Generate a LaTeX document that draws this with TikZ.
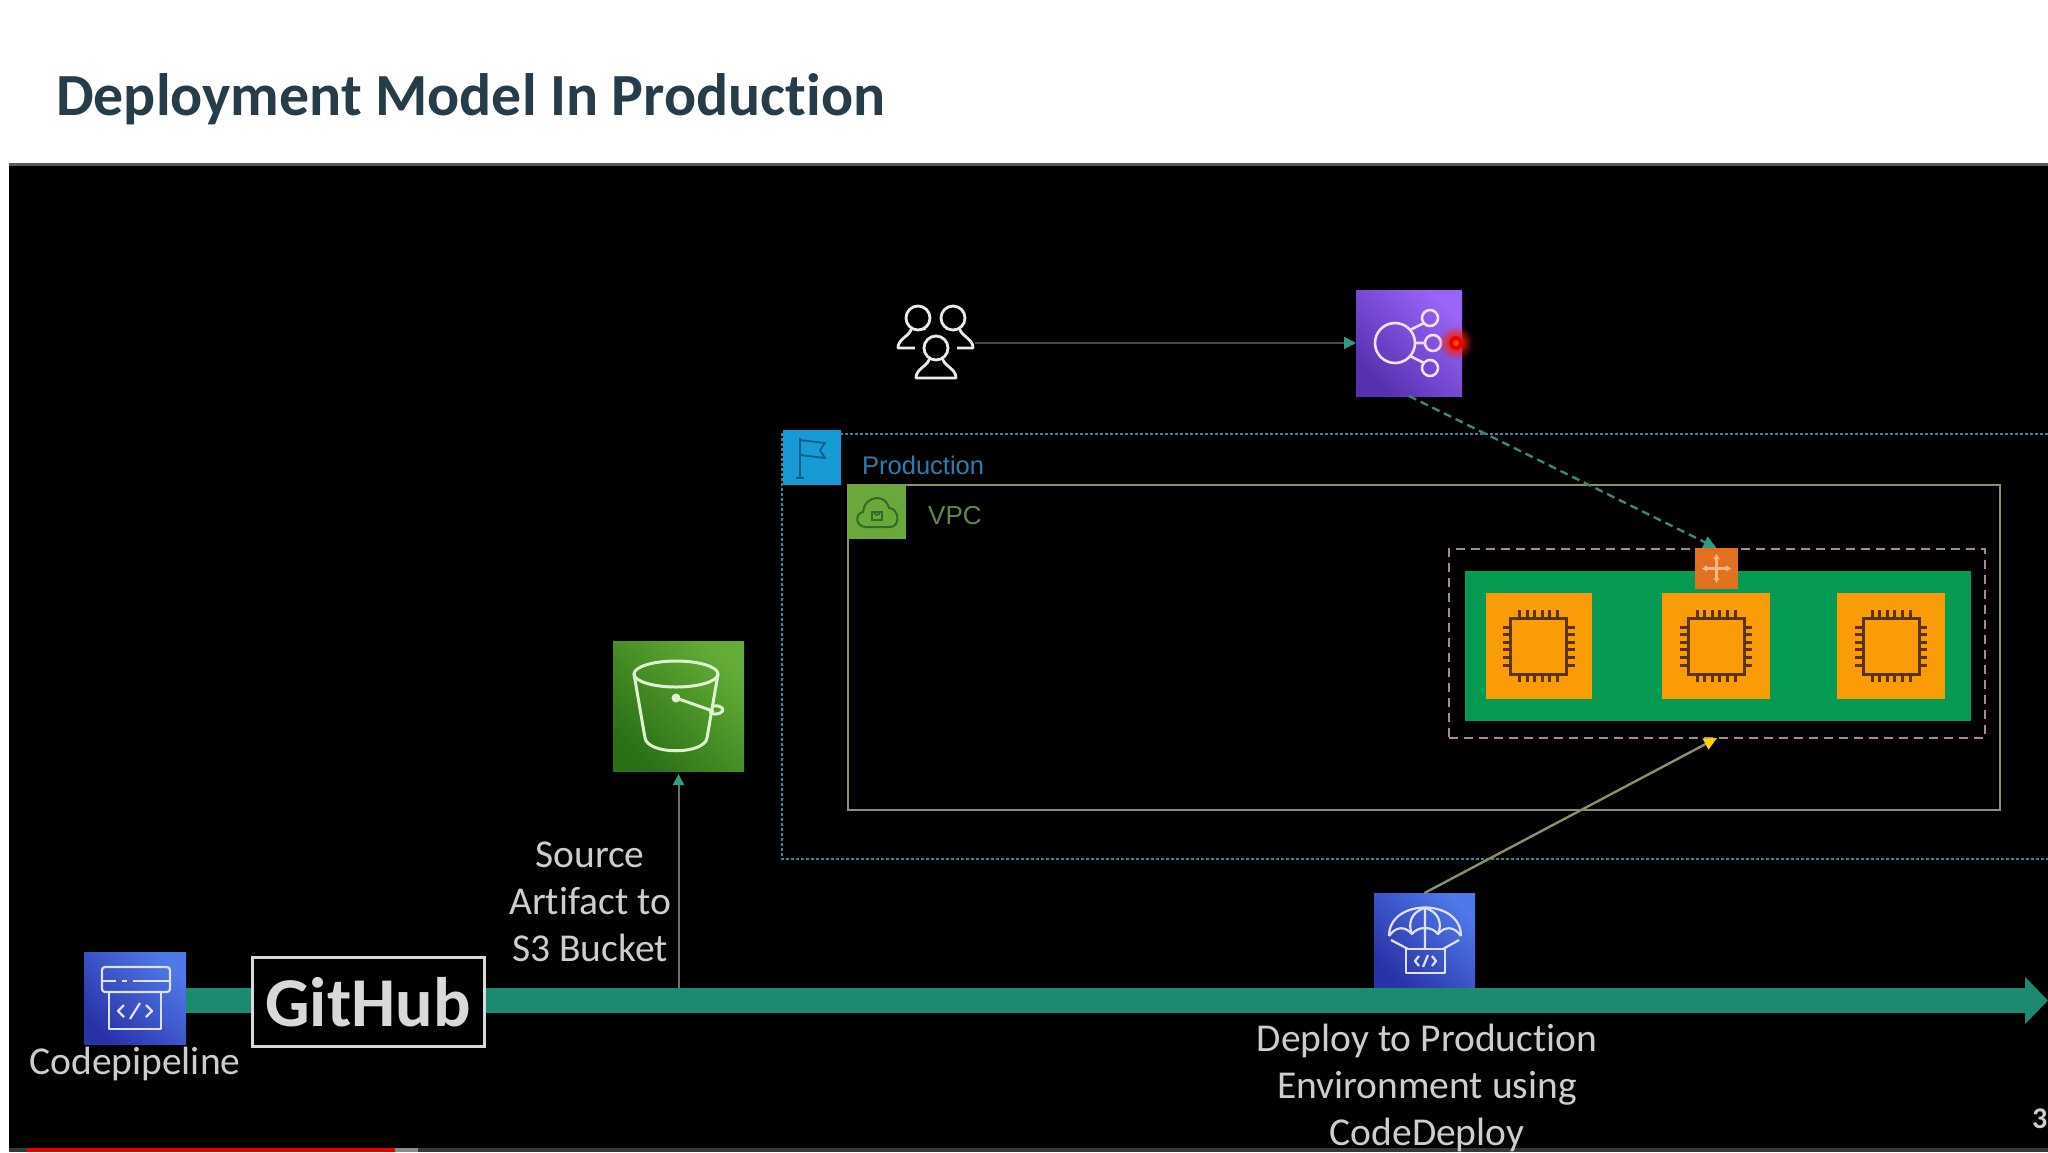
\documentclass[tikz,border=0pt]{standalone}
\usepackage{fontspec}
\setmainfont{Carlito}[Ligatures=NoCommon]
\newfontfamily\arialfont{Liberation Sans}
\usetikzlibrary{arrows.meta,positioning}
\definecolor{titleink}{HTML}{263C49}
\definecolor{labelink}{HTML}{CDCDCD}
\definecolor{barteal}{HTML}{1B8A70}
\definecolor{tealhead}{HTML}{2A9D83}
\definecolor{slate}{HTML}{3A4F4A}
\definecolor{dashteal}{HTML}{3F8572}
\definecolor{olive}{HTML}{8C8F6C}
\definecolor{prodline}{HTML}{41809A}
\definecolor{pinkdash}{HTML}{A88890}
\definecolor{asggreen}{HTML}{069B52}
\definecolor{ecorange}{HTML}{FA9C05}
\definecolor{chipbrown}{HTML}{5A3308}
\definecolor{lborange}{HTML}{E2701F}
\definecolor{lbcream}{HTML}{F6B884}
\definecolor{flagblue}{HTML}{169BD5}
\definecolor{flagink}{HTML}{0F5F8E}
\definecolor{vpcgreen}{HTML}{6BA83A}
\definecolor{vpcink}{HTML}{2F6B2A}
\definecolor{prodtext}{HTML}{2F7DAB}
\definecolor{vpctext}{HTML}{5E8A45}
\definecolor{purplelo}{HTML}{5530B0}
\definecolor{purplehi}{HTML}{9A64F8}
\definecolor{bluelo}{HTML}{2A32A8}
\definecolor{bluehi}{HTML}{4F78E8}
\definecolor{greenlo}{HTML}{2A7016}
\definecolor{greenhi}{HTML}{64AC36}
\definecolor{bucketink}{HTML}{DDF3D0}
\tikzset{
  x=1pt,y=-1pt,
  box/.style={inner sep=0pt,outer sep=0pt,rectangle},
  purplebox/.style={box,minimum width=106pt,minimum height=106pt,shading=axis,bottom color=purplelo,top color=purplehi,shading angle=-45},
  bluebox/.style={box,shading=axis,bottom color=bluelo,top color=bluehi,shading angle=-45},
  greenbox/.style={box,minimum width=131pt,minimum height=130pt,shading=axis,bottom color=greenlo,top color=greenhi,shading angle=-45},
  ecbox/.style={box,fill=ecorange,minimum width=106pt,minimum height=106pt},
  label text/.style={text=labelink,font=\fontsize{39.5}{47}\selectfont,align=center,inner sep=0pt},
  icon line/.style={draw=white!92!black,line width=2.8pt,line cap=round,line join=round},
  pics/chip/.style={code={
    \draw[chipbrown,line width=3pt] (-28,-28) rectangle (28,28);
    \foreach \k in {-19,-11.4,-3.8,3.8,11.4,19}{
      \draw[chipbrown,line width=3pt] (\k,-36) -- (\k,-28) (\k,28) -- (\k,36)
        (-36,\k) -- (-28,\k) (28,\k) -- (36,\k);}
  }},
  pics/person/.style={code={
    \draw[icon line] (0,-13) circle (12);
    \draw[icon line] (-20,17) .. controls (-20,8) and (-10,6) .. (-7,-1)
      (7,-1) .. controls (10,6) and (20,8) .. (20,17) (-20,17) -- (20,17);
  }},
}
\begin{document}
\begin{tikzpicture}
\useasboundingbox (0,0) rectangle (2048,1152);
\fill[white] (0,0) rectangle (2048,1152);
% panel
\fill[black] (9,163) rectangle (2048,1152);
\fill[black!65] (9,163) rectangle (2048,166);
\fill[black!78] (9,1148) rectangle (2048,1152);
\fill[red!90!black] (27,1148) rectangle (395,1152);
\fill[black!45] (395,1148) rectangle (418,1152);

\node[anchor=base west,inner sep=0pt,text=titleink,font=\fontsize{59.8}{64}\selectfont\bfseries] (title) at (56,115) {Deployment Model In Production};

% Production and VPC frames
\draw[prodline,line width=2pt,dash pattern=on 3pt off 2pt] (2048,434) -- (782,434) -- (782,859) -- (2048,859);
\node[box,draw=olive,line width=2.4pt,minimum width=1152pt,minimum height=325pt] (vpc) at (1424,647.5) {};
\node[box,fill=flagblue,minimum width=58pt,minimum height=55pt] (flag) at (812,457.5) {};
\draw[flagink,line width=1.8pt,line join=round] (800,438) -- (800,478) (796,478) -- (804,478)
  (800,440) -- (825,443) -- (820,450) -- (825,458) -- (800,455);
\node[box,fill=vpcgreen,minimum width=58pt,minimum height=54pt] (vpcicon) at (877,512) {};
\draw[vpcink,line width=2pt,line join=round] (866,527) .. controls (856,527) and (854,514) .. (863,512)
  .. controls (864,503) and (870,498) .. (877,498) .. controls (884,498) and (888,503) .. (889,508)
  .. controls (899,508) and (901,527) .. (890,527) -- cycle;
\draw[vpcink,line width=1.6pt] (872,512) rectangle (882,520) (874,512) arc (180:0:3);
\node[anchor=west,inner sep=0pt,text=prodtext,font=\arialfont\fontsize{25.5}{30}\selectfont] (prodlabel) at (862,465) {Production};
\node[anchor=west,inner sep=0pt,text=vpctext,font=\arialfont\fontsize{26}{30}\selectfont] (vpclabel) at (928,516) {VPC};

% Auto scaling group
\node[box,draw=pinkdash,line width=2.6pt,dash pattern=on 9pt off 6pt,minimum width=536pt,minimum height=189pt] (asg) at (1717,643.5) {};
\node[box,fill=asggreen,minimum width=506pt,minimum height=150pt] (subnet) at (1718,646) {};
\node[ecbox] (ec2a) at (1538.5,646) {};
\node[ecbox,minimum width=108pt] (ec2b) at (1716,646) {};
\node[ecbox,minimum width=108pt] (ec2c) at (1891,646) {};
\pic at (ec2a.center) {chip};
\pic at (ec2b.center) {chip};
\pic at (ec2c.center) {chip};
\node[box,fill=lborange,minimum width=43pt,minimum height=41pt] (lb) at (1716.5,568.5) {};
\draw[lbcream,line width=2.2pt,{Triangle[length=5pt,width=6pt]}-{Triangle[length=5pt,width=6pt]}] (1716.5,554) -- (1716.5,583);
\draw[lbcream,line width=2.2pt,{Triangle[length=5pt,width=6pt]}-{Triangle[length=5pt,width=6pt]}] (1702,568.5) -- (1731,568.5);

% Users
\node[box,minimum width=76pt,minimum height=74pt] (users) at (936.5,343) {};
\pic at (918,331) {person};
\pic at (953,331) {person};
\fill[black] (936,348) circle (21);
\pic at (936,361) {person};

% ELB
\node[purplebox] (elb) at (1409,343) {};
\begin{scope}[draw=white!88!violet,line width=2.6pt]
  \draw (1395,343) circle (20) (1430,318) circle (8) (1433,343) circle (8) (1430,368) circle (8);
  \draw (1410,330) -- (1424,323) (1415,343) -- (1425,343) (1410,356) -- (1424,363);
\end{scope}
\foreach \r/\o in {17/0.12,15/0.16,13/0.2,11/0.28,9/0.35}{\fill[red!75!orange,opacity=\o] (1456,343) circle (\r);}
\fill[red!95!black] (1456,343) circle (7);
\fill[orange!70!red] (1456,343) circle (2.8);

% S3
\node[greenbox] (s3) at (678.5,706) {};
\begin{scope}[draw=bucketink,line width=3pt,line cap=round,line join=round]
  \draw (676,674) ellipse (42 and 13);
  \draw (634,674) -- (645,738) .. controls (648,755) and (704,755) .. (707,738) -- (718,674);
  \draw (676,698) -- (713,711);
  \draw (714,706) .. controls (722,705) and (726,710) .. (720,713) .. controls (716,715) and (712,714) .. (710,712);
\end{scope}
\fill[bucketink] (676,698) circle (4.5);

% Main timeline
\node[bluebox,minimum width=102pt,minimum height=92pt] (pipe) at (135,998) {};
\coordinate (tip) at (2048,1000.5);
\draw[barteal,line width=25pt,-{Triangle[length=23pt,width=46pt]}] (pipe.east |- tip) -- (tip);
\node[box,fill=black,draw=white!85!black,line width=3pt,minimum width=232pt,minimum height=89pt] (git) at (368,1001.5) {};
\node[inner sep=0pt,text=white!85!black,font=\bfseries\fontsize{70}{70}\selectfont] (gitlabel) at (368,1002) {GitHub};
\begin{scope}[draw=white!88!blue,line width=2.2pt,line join=round]
  \draw[rounded corners=3pt] (102,967) rectangle (170,992);
  \draw (102,981) -- (116,981) (122,981) -- (127,981) (133,981) -- (170,981);
  \draw (109,992) -- (109,1029) -- (161,1029) -- (161,992);
  \draw (124,1005) -- (118,1011) -- (124,1017) (130,1019) -- (140,1003) (146,1005) -- (152,1011) -- (146,1017);
\end{scope}
\node[label text] (piplabel) at (135,1064) {Codepipeline};

% S3 arrow
\coordinate (s3foot) at (s3.south |- 0,988);
\draw[slate!80!white,line width=2pt,-{Triangle[length=11pt,width=11pt,color=tealhead]},shorten >=3pt] (s3foot) -- (s3.south);
\node[label text] (srclabel) at (590,902) {Source\\Artifact to\\S3 Bucket};

% CodeDeploy
\node[bluebox,minimum width=101pt,minimum height=94pt] (dep) at (1424.5,940) {};
\begin{scope}[draw=white!88!blue,line width=2.2pt,line join=round]
  \draw (1389,936) .. controls (1389,898) and (1461,898) .. (1461,936);
  \draw (1389,936) .. controls (1396,926) and (1405,926) .. (1412,934) .. controls (1418,926) and (1432,926) .. (1438,934) .. controls (1445,926) and (1454,926) .. (1461,936);
  \draw (1425,908) .. controls (1410,912) and (1408,925) .. (1412,934) (1425,908) .. controls (1440,912) and (1442,925) .. (1438,934) (1425,908) -- (1425,930);
  \draw (1391,940) -- (1408,949) (1459,940) -- (1443,949) (1425,930) -- (1425,949);
  \draw (1406,949) rectangle (1445,973);
  \draw (1419,956) -- (1415,961) -- (1419,966) (1423,967) -- (1428,955) (1432,956) -- (1436,961) -- (1432,966);
\end{scope}
\node[label text] (deplabel) at (1427,1088) {Deploy to Production\\Environment using\\CodeDeploy};

% connectors
\draw[slate,line width=2pt,-{Triangle[length=12pt,width=12pt,color=tealhead]}] (users.east) -- (elb.west);
\draw[dashteal,line width=2.4pt,dash pattern=on 8pt off 5pt,-{Triangle[length=13pt,width=12pt,color=tealhead]}] (elb.south) -- (lb.north);
\draw[olive,line width=2.4pt,-{Triangle[length=13pt,width=12pt,color=yellow!70!orange]}] (dep.north) -- (asg.south);
\node[anchor=west,inner sep=0pt,text=labelink,font=\bfseries\fontsize{30}{30}\selectfont] (pagenum) at (2032,1119) {3};
\end{tikzpicture}
\end{document}
